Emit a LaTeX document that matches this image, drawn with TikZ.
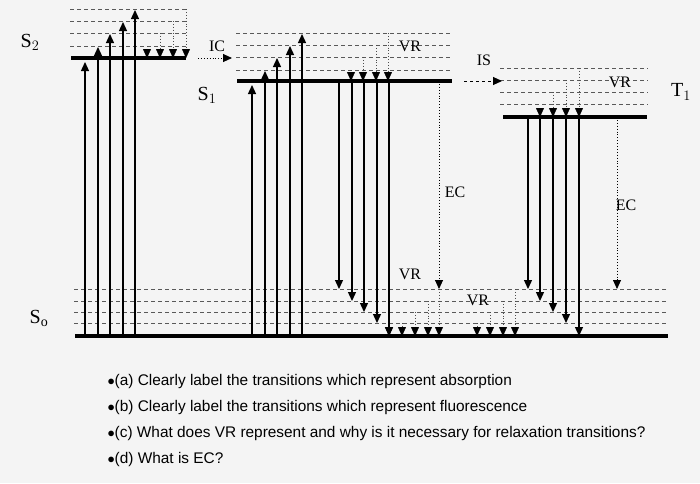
\documentclass[tikz,border=0pt]{standalone}
\usepackage{fontspec}
\setmainfont{Liberation Serif}
\newfontfamily\qfont{Liberation Sans}
\usetikzlibrary{arrows.meta}
\begin{document}
\begin{tikzpicture}[x=1pt,y=-1pt,
  >={Triangle[length=9pt,width=8pt]},
  level/.style={line width=3.5pt},
  vib/.style={dashed,gray!70!black,line width=0.8pt,dash pattern=on 4pt off 3pt},
  tr/.style={line width=1.3pt,->},
  dot/.style={dotted,gray!60!black,line width=0.9pt},
  vr/.style={line width=0.1pt,->},
  lab/.style={font=\fontsize{16}{16}\selectfont},
  big/.style={font=\fontsize{20}{20}\selectfont},
  q/.style={font=\qfont\fontsize{15.4}{16}\selectfont,anchor=west}]
\fill[gray!9] (0,0) rectangle (700,483);
\useasboundingbox (0,0) rectangle (700,483);
% vibrational levels
\foreach \y in {9,21,33,46} \draw[vib] (70,\y) -- (186,\y);
\foreach \y in {33,45,57,70} \draw[vib] (236,\y) -- (452,\y);
\foreach \y in {68,80,92,104} \draw[vib] (500,\y) -- (648,\y);
\foreach \y in {289,301,312,323} \draw[vib] (74,\y) -- (668,\y);
% electronic levels
\draw[level] (71,58) -- (186,58);
\draw[level] (237,81) -- (452,81);
\draw[level] (503,117) -- (647,117);
\draw[level] (75,336) -- (668,336);
% absorption to S2
\foreach \x/\t in {85/62,98/47,110/34,123/22,135/10} \draw[tr] (\x,336) -- (\x,\t);
% VR in S2
\foreach \x/\f in {147/46,160/33,173/21,186/9} {\draw[dot] (\x,\f) -- (\x,50); \draw[vr] (\x,49) -- (\x,58);}
% IC
\draw[dot,->,black] (198,58) -- (232,58);
\node[lab] at (217,46) {IC};
% absorption to S1
\foreach \x/\t in {252/85,265/71,277/58,290/46,302/34} \draw[tr] (\x,336) -- (\x,\t);
% VR in S1
\foreach \x/\f in {351/70,363/57,376/45,388/33} {\draw[dot] (\x,\f) -- (\x,73); \draw[vr] (\x,72) -- (\x,81);}
\node[lab] at (410,46) {VR};
% fluorescence S1
\foreach \x/\t in {339/289,352/301,364/312,377/323,389/336} \draw[tr] (\x,81) -- (\x,\t);
% EC S1
\draw[dot,->,black] (439,81) -- (439,289);
\node[lab] at (455,192) {EC};
\node[lab] at (410,274) {VR};
% IS
\draw[dashed,line width=1pt,->] (464,81) -- (502,81);
\node[lab] at (484,60) {IS};
% VR in T1
\foreach \x/\f in {540/110,553/92,566/80,579/68} {\draw[dot] (\x,\f) -- (\x,109); \draw[vr] (\x,108) -- (\x,117);}
\node[lab] at (620,82) {VR};
% phosphorescence T1
\foreach \x/\t in {528/289,540/301,553/312,566/323,579/336} \draw[tr] (\x,117) -- (\x,\t);
\draw[dot,->,black] (617,117) -- (617,289);
\node[lab] at (626,205) {EC};
% VR at S0
\foreach \x/\f in {402/323,415/312,428/301,439/289,477/323,490/312,503/301,515/289} {\draw[dot] (\x,\f) -- (\x,328); \draw[vr] (\x,327) -- (\x,336);}
\draw[vr] (389,327) -- (389,336);
\node[lab] at (478,300) {VR};
% labels
\node[big] at (30,42) {S$_2$};
\node[big] at (207,95) {S$_1$};
\node[big] at (39,318) {S$_\mathrm{o}$};
\node[big] at (681,92) {T$_1$};
% questions
\node[q] at (104,382) {$\bullet$(a) Clearly label the transitions which represent absorption};
\node[q] at (104,408) {$\bullet$(b) Clearly label the transitions which represent fluorescence};
\node[q] at (104,434) {$\bullet$(c) What does VR represent and why is it necessary for relaxation transitions?};
\node[q] at (104,460) {$\bullet$(d) What is EC?};
\end{tikzpicture}
\end{document}
